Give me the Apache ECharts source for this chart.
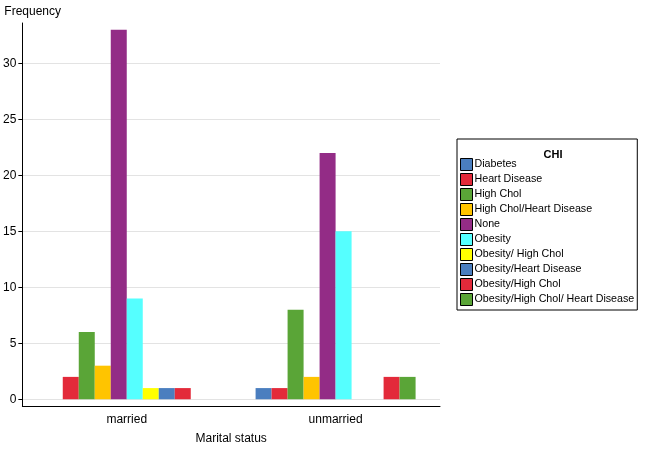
<!DOCTYPE html>
<html><head><meta charset="utf-8">
<script src="https://cdn.jsdelivr.net/npm/echarts@6/dist/echarts.min.js"></script>
<style>html,body{margin:0;padding:0;background:#fff}#c{width:653px;height:450px}</style>
</head><body><div id="c"></div>
<script>
const categories = ['married', 'unmarried'];
const seriesNames = ['Diabetes','Heart Disease','High Chol','High Chol/Heart Disease','None','Obesity','Obesity/ High Chol','Obesity/Heart Disease','Obesity/High Chol','Obesity/High Chol/ Heart Disease'];
const diabetes = [0, 1];
const heartDisease = [2, 1];
const highChol = [6, 8];
const highCholHeart = [3, 2];
const none = [33, 22];
const obesity = [9, 15];
const obesityHighChol1 = [1, 0];
const obesityHeart = [1, 0];
const obesityHighChol2 = [1, 2];
const obesityHighCholHeart = [0, 2];
const yTicks = [0, 5, 10, 15, 20, 25, 30];
const colors = ['#4a7ebf','#e32a3a','#5aa537','#ffc400','#932c86','#55ffff','#ffff00','#4a7ebf','#e32a3a','#5aa537'];
const values = [diabetes, heartDisease, highChol, highCholHeart, none, obesity, obesityHighChol1, obesityHeart, obesityHighChol2, obesityHighCholHeart];

const font = 'Liberation Sans, Arial, sans-serif';
const chart = echarts.init(document.getElementById('c'));
chart.setOption({
  animation: false,
  color: colors,
  textStyle: { fontFamily: font },
  title: {
    text: 'CHI', left: 548, top: 144, textAlign: 'center',
    textStyle: { fontSize: 11, fontWeight: 'bold', color: '#000', fontFamily: font }
  },
  legend: {
    orient: 'vertical', left: 457, top: 139,
    padding: [19, 3, 4, 3],
    borderColor: '#000', borderWidth: 1,
    itemWidth: 12, itemHeight: 12, itemGap: 2,
    icon: 'rect',
    itemStyle: { borderColor: '#000', borderWidth: 1 },
    textStyle: { fontSize: 10.7, color: '#000', padding: [0, 0, 0, -3], fontFamily: font },
    data: seriesNames
  },
  grid: { left: 22, right: 213, top: 23, bottom: 42, containLabel: false },
  xAxis: {
    type: 'category', data: categories,
    name: 'Marital status', nameLocation: 'middle', nameGap: 27,
    nameTextStyle: { fontSize: 12, color: '#000' },
    axisLine: { onZero: false, lineStyle: { color: '#000', width: 1 } },
    axisTick: { alignWithLabel: true, length: 4, lineStyle: { color: '#000' } },
    axisLabel: { fontSize: 12, color: '#000', margin: 8 }
  },
  yAxis: {
    type: 'value', min: -0.6, max: 33.6,
    name: 'Frequency', nameLocation: 'end', nameGap: 5,
    nameTextStyle: { fontSize: 12, color: '#000', align: 'left', padding: [0, 0, 0, -18] },
    axisLine: { show: true, lineStyle: { color: '#000', width: 1 } },
    axisTick: { show: true, length: 4, customValues: yTicks, lineStyle: { color: '#000' } },
    axisLabel: { fontSize: 12, color: '#000', margin: 6, customValues: yTicks },
    splitLine: { show: true, lineStyle: { color: '#e3e3e3' } }
  },
  series: seriesNames.map((n, i) => ({
    name: n, type: 'bar', data: values[i],
    barWidth: 16, barGap: '0%', barCategoryGap: '23%'
  }))
});
</script></body></html>
